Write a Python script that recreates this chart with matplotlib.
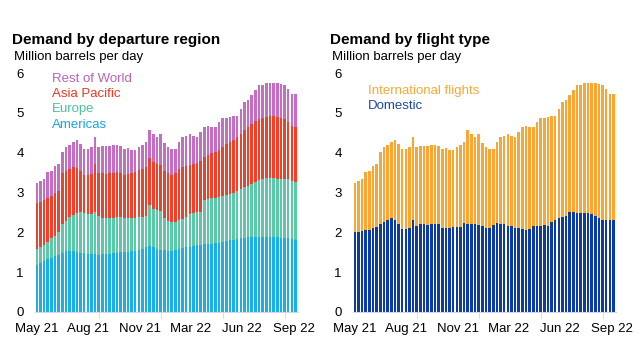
import numpy as np
import matplotlib
matplotlib.use("Agg")
import matplotlib.pyplot as plt

plt.rcParams["font.family"] = ["Liberation Sans", "DejaVu Sans"]

# weekly demand, million barrels per day (stacked levels)
total = [3.23, 3.28, 3.33, 3.52, 3.55, 3.67, 3.71, 4.02, 4.15, 4.20,
         4.28, 4.33, 4.22, 4.10, 4.10, 4.13, 4.40, 4.15, 4.16, 4.17,
         4.16, 4.20, 4.20, 4.17, 4.08, 4.12, 4.06, 4.06, 4.15, 4.20,
         4.27, 4.58, 4.47, 4.40, 4.47, 4.24, 4.13, 4.08, 4.10, 4.28,
         4.40, 4.43, 4.46, 4.43, 4.40, 4.52, 4.64, 4.66, 4.64, 4.64,
         4.77, 4.86, 4.88, 4.90, 4.92, 4.92, 5.10, 5.27, 5.33, 5.44,
         5.58, 5.70, 5.70, 5.74, 5.76, 5.76, 5.76, 5.73, 5.70, 5.60,
         5.47, 5.47]

americas = [1.18, 1.22, 1.27, 1.32, 1.36, 1.40, 1.44, 1.48, 1.52, 1.52,
            1.52, 1.50, 1.48, 1.47, 1.45, 1.45, 1.45, 1.44, 1.45, 1.46,
            1.46, 1.47, 1.48, 1.50, 1.50, 1.51, 1.52, 1.53, 1.55, 1.58,
            1.62, 1.65, 1.62, 1.58, 1.56, 1.55, 1.54, 1.54, 1.56, 1.58,
            1.60, 1.62, 1.64, 1.66, 1.68, 1.69, 1.70, 1.70, 1.71, 1.72,
            1.74, 1.76, 1.78, 1.80, 1.82, 1.83, 1.85, 1.87, 1.88, 1.89,
            1.89, 1.89, 1.89, 1.89, 1.89, 1.88, 1.88, 1.87, 1.86, 1.85,
            1.83, 1.82]

# top of the Europe band (Americas + Europe)
europe_top = [1.58, 1.62, 1.68, 1.75, 1.85, 1.92, 2.00, 2.20, 2.28, 2.38,
              2.44, 2.48, 2.50, 2.48, 2.47, 2.47, 2.50, 2.42, 2.37, 2.36,
              2.36, 2.37, 2.38, 2.38, 2.36, 2.36, 2.37, 2.37, 2.38, 2.38,
              2.40, 2.69, 2.58, 2.55, 2.54, 2.35, 2.28, 2.26, 2.27, 2.30,
              2.33, 2.38, 2.45, 2.48, 2.50, 2.52, 2.80, 2.83, 2.85, 2.86,
              2.88, 2.90, 2.93, 2.95, 2.98, 3.03, 3.08, 3.13, 3.17, 3.22,
              3.27, 3.31, 3.34, 3.36, 3.36, 3.36, 3.35, 3.34, 3.34, 3.33,
              3.29, 3.27]

# top of the Asia Pacific band
asia_top = [2.73, 2.75, 2.80, 2.85, 2.90, 2.98, 3.05, 3.48, 3.55, 3.60,
            3.65, 3.62, 3.55, 3.45, 3.45, 3.47, 3.72, 3.50, 3.48, 3.47,
            3.48, 3.50, 3.52, 3.48, 3.45, 3.47, 3.48, 3.52, 3.56, 3.60,
            3.65, 3.86, 3.76, 3.72, 3.70, 3.55, 3.48, 3.45, 3.50, 3.58,
            3.63, 3.67, 3.70, 3.72, 3.74, 3.80, 3.90, 3.95, 3.98, 4.02,
            4.07, 4.15, 4.22, 4.28, 4.33, 4.40, 4.48, 4.57, 4.65, 4.72,
            4.80, 4.84, 4.88, 4.90, 4.91, 4.91, 4.90, 4.88, 4.84, 4.78,
            4.68, 4.65]

domestic = [2.00, 2.01, 2.03, 2.05, 2.07, 2.10, 2.13, 2.20, 2.27, 2.30,
            2.37, 2.30, 2.20, 2.08, 2.08, 2.10, 2.32, 2.17, 2.20, 2.22,
            2.18, 2.20, 2.20, 2.22, 2.12, 2.10, 2.10, 2.13, 2.13, 2.13,
            2.23, 2.20, 2.20, 2.22, 2.18, 2.15, 2.12, 2.10, 2.18, 2.23,
            2.22, 2.22, 2.17, 2.17, 2.10, 2.12, 2.08, 2.05, 2.08, 2.15,
            2.17, 2.15, 2.18, 2.15, 2.25, 2.32, 2.35, 2.38, 2.40, 2.50,
            2.50, 2.48, 2.48, 2.48, 2.48, 2.45, 2.42, 2.37, 2.30, 2.32,
            2.32, 2.32]

month_labels = ["May 21", "Aug 21", "Nov 21", "Mar 22", "Jun 22", "Sep 22"]
tick_marks = [0, 17, 34, 51, 68]

region_names = ["Americas", "Europe", "Asia Pacific", "Rest of World"]
region_colors = ["#1eaee2", "#5ec7a9", "#e8432d", "#c36fc1"]
region_text_colors = ["#1aa6d9", "#4dbf9f", "#e33b27", "#b963b6"]
flight_names = ["Domestic", "International flights"]
flight_colors = ["#0d3c9e", "#f6a735"]
flight_text_colors = ["#1f4a9c", "#f2ab3a"]


def style_axis(ax, title, n):
    ax.set_xlim(-0.5, n - 0.3)
    ax.set_ylim(0, 6)
    ax.set_yticks(range(7))
    ax.tick_params(axis="y", length=0, labelsize=9.5, pad=8)
    ax.set_xticks(np.linspace(0, 70.5, 6))
    ax.set_xticklabels(month_labels)
    ax.tick_params(axis="x", which="major", length=0, labelsize=9.5, pad=8)
    ax.set_xticks(tick_marks, minor=True)
    ax.tick_params(axis="x", which="minor", length=4, color="#cfd8e8")
    for s in ["top", "right", "left"]:
        ax.spines[s].set_visible(False)
    ax.spines["bottom"].set_color("#cfd8e8")
    ax.text(-0.086, 1.11, title, transform=ax.transAxes, fontsize=11,
            fontweight="bold", va="bottom")
    ax.text(-0.08, 1.04, "Million barrels per day", transform=ax.transAxes,
            fontsize=9.5, va="bottom")


def main():
    n = len(total)
    x = np.arange(n)
    w = 0.7

    fig = plt.figure(figsize=(6.4, 3.6), dpi=100)
    ax1 = fig.add_axes([35 / 640, 48 / 360, 263 / 640, 239 / 360])
    ax2 = fig.add_axes([353 / 640, 48 / 360, 263 / 640, 239 / 360])

    # left: by departure region
    levels = [np.zeros(n), np.array(americas), np.array(europe_top),
              np.array(asia_top), np.array(total)]
    for i in range(4):
        ax1.bar(x, levels[i + 1] - levels[i], bottom=levels[i], width=w,
                color=region_colors[i], linewidth=0)
    style_axis(ax1, "Demand by departure region", n)
    label_y = [4.70, 5.10, 5.48, 5.86]
    for i in range(4):
        ax1.text(4.2, label_y[i], region_names[i], color=region_text_colors[i],
                 fontsize=9.5, va="center")

    # right: by flight type
    dom = np.array(domestic)
    intl = np.array(total) - dom
    ax2.bar(x, dom, width=w, color=flight_colors[0], linewidth=0)
    ax2.bar(x, intl, bottom=dom, width=w, color=flight_colors[1], linewidth=0)
    style_axis(ax2, "Demand by flight type", n)
    ax2.text(3.6, 5.16, flight_names[0], color=flight_text_colors[0],
             fontsize=9.5, va="center")
    ax2.text(3.6, 5.55, flight_names[1], color=flight_text_colors[1],
             fontsize=9.5, va="center")

    fig.savefig("out.png", dpi=100, facecolor="white")


if __name__ == "__main__":
    main()
